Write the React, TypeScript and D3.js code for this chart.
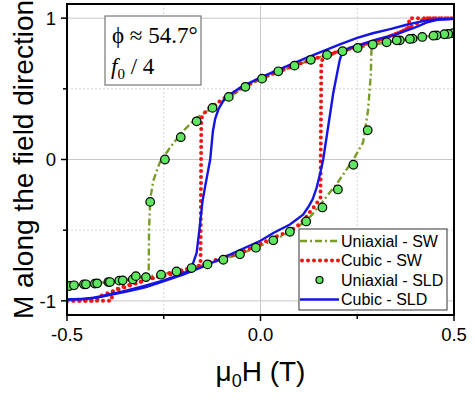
import React from "react";
import * as d3 from "d3";

type Pt = [number, number];

// field (T), M
const uniaxialSwUpper: Pt[] = [
  [0.5, 0.893], [0.45, 0.877], [0.42, 0.867], [0.38, 0.85], [0.35, 0.84], [0.32, 0.826],
  [0.29, 0.812], [0.25, 0.789], [0.21, 0.765], [0.17, 0.738], [0.13, 0.704], [0.09, 0.664],
  [0.05, 0.62], [0.0, 0.568], [-0.04, 0.512], [-0.08, 0.445], [-0.12, 0.372], [-0.165, 0.295],
  [-0.204, 0.19], [-0.234, 0.083], [-0.26, -0.02], [-0.277, -0.15], [-0.285, -0.28],
  [-0.288, -0.5], [-0.289, -0.81], [-0.3, -0.83], [-0.35, -0.852], [-0.4, -0.869],
  [-0.45, -0.882], [-0.5, -0.895],
];
const uniaxialSwLower: Pt[] = [
  [-0.5, -0.895], [-0.45, -0.882], [-0.4, -0.869], [-0.35, -0.852], [-0.3, -0.832],
  [-0.25, -0.81], [-0.2, -0.783], [-0.15, -0.75], [-0.1, -0.71], [-0.05, -0.665], [0, -0.61],
  [0.05, -0.55], [0.1, -0.47], [0.13, -0.4], [0.16, -0.3], [0.2, -0.16], [0.24, 0.0],
  [0.265, 0.12], [0.278, 0.35], [0.285, 0.6], [0.287, 0.81], [0.32, 0.826], [0.35, 0.84],
  [0.42, 0.867], [0.5, 0.893],
];
const cubicSwUpper: Pt[] = [
  [0.5, 1.0], [0.44, 1.0], [0.385, 1.0], [0.382, 0.93], [0.36, 0.9], [0.317, 0.853],
  [0.274, 0.818], [0.231, 0.785], [0.19, 0.755], [0.15, 0.722], [0.11, 0.686], [0.07, 0.648],
  [0.03, 0.605], [-0.01, 0.56], [-0.05, 0.505], [-0.09, 0.44], [-0.115, 0.395], [-0.135, 0.36],
  [-0.148, 0.32], [-0.153, 0.29], [-0.155, -0.75], [-0.19, -0.79], [-0.231, -0.81],
  [-0.26, -0.83], [-0.29, -0.848], [-0.315, -0.87], [-0.34, -0.895], [-0.37, -0.92],
  [-0.39, -0.94], [-0.41, -0.962], [-0.42, -0.99], [-0.43, -1.0], [-0.5, -1.0],
];
const cubicSwLower: Pt[] = [
  [-0.5, -1.0], [-0.385, -1.0], [-0.382, -0.93], [-0.36, -0.905], [-0.317, -0.87],
  [-0.274, -0.835], [-0.231, -0.8], [-0.19, -0.775], [-0.15, -0.745], [-0.11, -0.705],
  [-0.053, -0.66], [-0.01, -0.61], [0.033, -0.553], [0.076, -0.507], [0.1, -0.46],
  [0.115, -0.42], [0.128, -0.37], [0.14, -0.33], [0.15, -0.29], [0.155, -0.27], [0.157, 0.7],
  [0.19, 0.755], [0.231, 0.785], [0.274, 0.818], [0.317, 0.853], [0.36, 0.9], [0.39, 0.94],
  [0.41, 0.97], [0.42, 0.99], [0.43, 1.0], [0.5, 1.0],
];
const cubicSldUpper: Pt[] = [
  [0.5, 0.995], [0.46, 0.99], [0.43, 0.985], [0.405, 0.97], [0.38, 0.955], [0.335, 0.922],
  [0.29, 0.893], [0.25, 0.86], [0.205, 0.815], [0.16, 0.765], [0.12, 0.72], [0.076, 0.67],
  [0.033, 0.62], [-0.01, 0.567], [-0.05, 0.512], [-0.075, 0.468], [-0.095, 0.42],
  [-0.108, 0.36], [-0.117, 0.29], [-0.123, 0.2], [-0.13, 0.0], [-0.143, -0.19], [-0.15, -0.3],
  [-0.158, -0.5], [-0.165, -0.66], [-0.175, -0.74], [-0.185, -0.785], [-0.2, -0.805],
  [-0.25, -0.855], [-0.3, -0.895], [-0.35, -0.93], [-0.4, -0.96], [-0.43, -0.978],
  [-0.46, -0.987], [-0.5, -0.99],
];
const cubicSldLower: Pt[] = [
  [-0.5, -0.99], [-0.45, -0.985], [-0.42, -0.975], [-0.384, -0.955], [-0.34, -0.93],
  [-0.298, -0.905], [-0.255, -0.865], [-0.2, -0.815], [-0.15, -0.76], [-0.1, -0.7],
  [-0.053, -0.64], [0.0, -0.575], [0.033, -0.52], [0.076, -0.46], [0.11, -0.39],
  [0.125, -0.33], [0.135, -0.28], [0.145, -0.2], [0.154, -0.1], [0.162, 0.0], [0.175, 0.235],
  [0.188, 0.47], [0.198, 0.61], [0.205, 0.707], [0.212, 0.76], [0.23, 0.79], [0.26, 0.815],
  [0.3, 0.85], [0.35, 0.885], [0.4, 0.935], [0.43, 0.97], [0.46, 0.99], [0.5, 0.995],
];
const uniaxialSld: Pt[] = [
  [0.498, 0.893], [0.485, 0.888], [0.475, 0.886], [0.455, 0.878], [0.447, 0.876],
  [0.418, 0.867], [0.393, 0.855], [0.386, 0.853], [0.36, 0.843], [0.352, 0.843],
  [0.326, 0.829], [0.29, 0.813], [0.251, 0.789], [0.212, 0.766], [0.172, 0.74], [0.13, 0.705],
  [0.088, 0.664], [0.046, 0.624], [0.004, 0.572], [-0.039, 0.514], [-0.082, 0.443],
  [-0.124, 0.365], [-0.165, 0.27], [-0.206, 0.158], [-0.247, 0.0], [-0.285, -0.3],
  [-0.494, -0.895], [-0.482, -0.89], [-0.456, -0.883], [-0.451, -0.883], [-0.428, -0.878],
  [-0.422, -0.876], [-0.393, -0.867], [-0.389, -0.867], [-0.365, -0.857], [-0.356, -0.855],
  [-0.33, -0.848], [-0.322, -0.825], [-0.296, -0.832], [-0.257, -0.815], [-0.217, -0.792],
  [-0.178, -0.768], [-0.137, -0.742], [-0.096, -0.709], [-0.053, -0.671], [-0.012, -0.624],
  [0.033, -0.572], [0.076, -0.511], [0.118, -0.438], [0.16, -0.339], [0.2, -0.212],
  [0.24, -0.037], [0.277, 0.207],
];

const xTicks = [-0.5, 0, 0.5];
const xMinor = [-0.25, 0.25];
const yTicks = [-1, 0, 1];
const yMinor = [-0.5, 0.5];
const legendLabels = ["Uniaxial - SW", "Cubic - SW", "Uniaxial - SLD", "Cubic - SLD"];

const W = 474, H = 398;
const left = 67, right = 454, top = 4, bottom = 315;
const sans = "Arial, 'Liberation Sans', sans-serif";
const serif = "'Times New Roman', 'Liberation Serif', serif";
const green = "#789c28";
const red = "#f01414";
const blue = "#1414e6";
const dot = "#5ee65e";

export default function App() {
  const x = d3.scaleLinear().domain([-0.5, 0.5]).range([left, right]);
  const y = d3.scaleLinear().domain([-1.1, 1.1]).range([bottom, top]);
  const line = d3.line<Pt>().x((d) => x(d[0])).y((d) => y(d[1]));

  const greenStyle = { stroke: green, strokeWidth: 2.4, strokeDasharray: "7 3 2 3", fill: "none" };
  const redStyle = { stroke: red, strokeWidth: 4, strokeDasharray: "0 6", strokeLinecap: "round" as const, fill: "none" };
  const blueStyle = { stroke: blue, strokeWidth: 2.4, fill: "none" };

  const legY = [241, 260.5, 280, 299.5];
  const lx0 = 300, lx1 = 339;

  return (
    <div style={{ position: "fixed", left: 0, top: 0 }}>
      <svg width={W} height={H} style={{ display: "block", background: "#fff" }}>
        <defs>
          <clipPath id="plot">
            <rect x={left} y={top} width={right - left} height={bottom - top} />
          </clipPath>
        </defs>

        {/* grid */}
        {xTicks.map((t) => (
          <line key={"gx" + t} x1={x(t)} x2={x(t)} y1={top} y2={bottom} stroke="#c8c8c8" strokeWidth={1} />
        ))}
        {yTicks.map((t) => (
          <line key={"gy" + t} x1={left} x2={right} y1={y(t)} y2={y(t)} stroke="#c8c8c8" strokeWidth={1} />
        ))}
        {xMinor.map((t) => (
          <line key={"mx" + t} x1={x(t)} x2={x(t)} y1={top} y2={bottom} stroke="#d4d4d4" strokeDasharray="2 2" strokeWidth={1} />
        ))}
        {yMinor.map((t) => (
          <line key={"my" + t} x1={left} x2={right} y1={y(t)} y2={y(t)} stroke="#d4d4d4" strokeDasharray="2 2" strokeWidth={1} />
        ))}

        <g clipPath="url(#plot)">
          <path d={line(uniaxialSwUpper) ?? ""} style={greenStyle} />
          <path d={line(uniaxialSwLower) ?? ""} style={greenStyle} />
          <path d={line(cubicSwUpper) ?? ""} style={redStyle} />
          <path d={line(cubicSwLower) ?? ""} style={redStyle} />
          <path d={line(cubicSldUpper) ?? ""} style={blueStyle} />
          <path d={line(cubicSldLower) ?? ""} style={blueStyle} />
          {uniaxialSld.map((d, i) => (
            <circle key={i} cx={x(d[0])} cy={y(d[1])} r={4.3} fill={dot} stroke="#000" strokeWidth={1.2} />
          ))}
        </g>

        {/* frame */}
        <rect x={left} y={top} width={right - left} height={bottom - top} fill="none" stroke="#000" strokeWidth={2} />

        {/* ticks */}
        {xTicks.map((t) => (
          <g key={"tx" + t}>
            <line x1={x(t)} x2={x(t)} y1={bottom} y2={bottom + 6} stroke="#000" strokeWidth={1.5} />
            <text x={x(t)} y={341} textAnchor="middle" fontFamily={sans} fontSize={18.5}>
              {d3.format(".1f")(t).replace("−", "-")}
            </text>
          </g>
        ))}
        {xMinor.map((t) => (
          <line key={"tmx" + t} x1={x(t)} x2={x(t)} y1={bottom} y2={bottom + 4} stroke="#000" strokeWidth={1.5} />
        ))}
        {yTicks.map((t) => (
          <g key={"ty" + t}>
            <line x1={left - 6} x2={left} y1={y(t)} y2={y(t)} stroke="#000" strokeWidth={1.5} />
            <text x={56} y={y(t)} dy="0.36em" textAnchor="end" fontFamily={sans} fontSize={18.5}>
              {String(t).replace("−", "-")}
            </text>
          </g>
        ))}
        {yMinor.map((t) => (
          <line key={"tmy" + t} x1={left - 4} x2={left} y1={y(t)} y2={y(t)} stroke="#000" strokeWidth={1.5} />
        ))}

        {/* axis titles */}
        <text transform={`translate(33,${(top + bottom) / 2}) rotate(-90)`} textAnchor="middle" fontFamily={sans} fontSize={28}>
          M along the field direction
        </text>
        <text x={(left + right) / 2} y={381} textAnchor="middle" fontFamily={sans} fontSize={28}>
          μ<tspan fontSize={18} dy={6}>0</tspan>
          <tspan dy={-6}>H (T)</tspan>
        </text>

        {/* annotation */}
        <rect x={105} y={16} width={96} height={69} fill="#fff" stroke="#777" strokeWidth={1.2} />
        <text x={112} y={43} fontFamily={serif} fontSize={23}>
          ϕ ≈ 54.7°
        </text>
        <text x={111} y={74} fontFamily={serif} fontSize={23}>
          <tspan fontStyle="italic">f</tspan>
          <tspan fontSize={15} dy={5}>0</tspan>
          <tspan dy={-5}> / 4</tspan>
        </text>

        {/* legend */}
        <rect x={299} y={229} width={148} height={81} fill="#fff" stroke="#555" strokeWidth={1.2} />
        <line x1={lx0} x2={lx1} y1={legY[0]} y2={legY[0]} style={greenStyle} />
        <line x1={lx0 + 2} x2={lx1} y1={legY[1]} y2={legY[1]} style={redStyle} />
        <circle cx={(lx0 + lx1) / 2} cy={legY[2]} r={3.5} fill={dot} stroke="#000" strokeWidth={1.2} />
        <line x1={lx0} x2={lx1} y1={legY[3]} y2={legY[3]} style={blueStyle} />
        {legendLabels.map((l, i) => (
          <text key={l} x={341} y={legY[i]} dy="0.36em" fontFamily={sans} fontSize={16}>
            {l}
          </text>
        ))}
      </svg>
    </div>
  );
}
